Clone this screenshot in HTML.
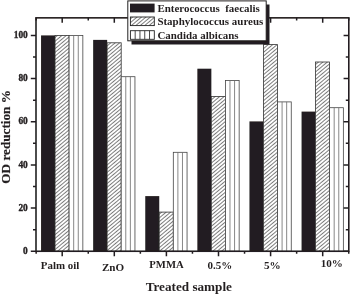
<!DOCTYPE html>
<html><head><meta charset="utf-8"><title>OD reduction chart</title>
<style>
html,body{margin:0;padding:0;background:#fff;}
body{width:350px;height:295px;overflow:hidden;}
svg{display:block;}
text{font-family:"Liberation Serif",serif;font-weight:bold;fill:#231f20;white-space:pre;}
</style></head><body>
<svg width="350" height="295" viewBox="0 0 350 295">
<defs>
<pattern id="hatch" patternUnits="userSpaceOnUse" width="2.85" height="2.85" patternTransform="rotate(-40)">
<rect width="2.85" height="2.85" fill="#fff"/>
<line x1="0" y1="1.4" x2="2.85" y2="1.4" stroke="#444" stroke-width="0.7"/>
</pattern>
<filter id="soft"><feGaussianBlur stdDeviation="0.35"/></filter>
</defs>
<rect width="350" height="295" fill="#fff"/>
<g filter="url(#soft)">

<rect x="41.05" y="35.40" width="14.00" height="215.85" fill="#231f20"/>
<rect x="55.05" y="35.40" width="14.05" height="215.85" fill="url(#hatch)" stroke="#333" stroke-width="0.8"/>
<rect x="69.10" y="35.40" width="13.75" height="215.85" fill="#fff" stroke="#444" stroke-width="0.8"/>
<line x1="73.68" y1="35.40" x2="73.68" y2="251.25" stroke="#6a6a6a" stroke-width="0.8"/>
<line x1="78.27" y1="35.40" x2="78.27" y2="251.25" stroke="#6a6a6a" stroke-width="0.8"/>
<rect x="93.15" y="39.90" width="14.00" height="211.35" fill="#231f20"/>
<rect x="107.15" y="42.80" width="14.05" height="208.45" fill="url(#hatch)" stroke="#333" stroke-width="0.8"/>
<rect x="121.20" y="76.70" width="13.75" height="174.55" fill="#fff" stroke="#444" stroke-width="0.8"/>
<line x1="125.78" y1="76.70" x2="125.78" y2="251.25" stroke="#6a6a6a" stroke-width="0.8"/>
<line x1="130.37" y1="76.70" x2="130.37" y2="251.25" stroke="#6a6a6a" stroke-width="0.8"/>
<rect x="145.25" y="196.10" width="14.00" height="55.15" fill="#231f20"/>
<rect x="159.25" y="212.10" width="14.05" height="39.15" fill="url(#hatch)" stroke="#333" stroke-width="0.8"/>
<rect x="173.30" y="152.30" width="13.75" height="98.95" fill="#fff" stroke="#444" stroke-width="0.8"/>
<line x1="177.88" y1="152.30" x2="177.88" y2="251.25" stroke="#6a6a6a" stroke-width="0.8"/>
<line x1="182.47" y1="152.30" x2="182.47" y2="251.25" stroke="#6a6a6a" stroke-width="0.8"/>
<rect x="197.35" y="68.70" width="14.00" height="182.55" fill="#231f20"/>
<rect x="211.35" y="96.40" width="14.05" height="154.85" fill="url(#hatch)" stroke="#333" stroke-width="0.8"/>
<rect x="225.40" y="80.50" width="13.75" height="170.75" fill="#fff" stroke="#444" stroke-width="0.8"/>
<line x1="229.98" y1="80.50" x2="229.98" y2="251.25" stroke="#6a6a6a" stroke-width="0.8"/>
<line x1="234.57" y1="80.50" x2="234.57" y2="251.25" stroke="#6a6a6a" stroke-width="0.8"/>
<rect x="249.45" y="121.40" width="14.00" height="129.85" fill="#231f20"/>
<rect x="263.45" y="44.60" width="14.05" height="206.65" fill="url(#hatch)" stroke="#333" stroke-width="0.8"/>
<rect x="277.50" y="101.90" width="13.75" height="149.35" fill="#fff" stroke="#444" stroke-width="0.8"/>
<line x1="282.08" y1="101.90" x2="282.08" y2="251.25" stroke="#6a6a6a" stroke-width="0.8"/>
<line x1="286.67" y1="101.90" x2="286.67" y2="251.25" stroke="#6a6a6a" stroke-width="0.8"/>
<rect x="301.55" y="111.60" width="14.00" height="139.65" fill="#231f20"/>
<rect x="315.55" y="62.00" width="14.05" height="189.25" fill="url(#hatch)" stroke="#333" stroke-width="0.8"/>
<rect x="329.60" y="107.70" width="13.75" height="143.55" fill="#fff" stroke="#444" stroke-width="0.8"/>
<line x1="334.18" y1="107.70" x2="334.18" y2="251.25" stroke="#6a6a6a" stroke-width="0.8"/>
<line x1="338.77" y1="107.70" x2="338.77" y2="251.25" stroke="#6a6a6a" stroke-width="0.8"/>
<rect x="36.0" y="17.85" width="312.80" height="233.40" fill="none" stroke="#231f20" stroke-width="1.6"/>
<path d="M36.15 251.25 v2.6 M36.15 17.85 v2.6 M62.20 251.25 v5 M62.20 17.85 v5 M88.25 251.25 v2.6 M88.25 17.85 v2.6 M114.30 251.25 v5 M114.30 17.85 v5 M140.35 251.25 v2.6 M140.35 17.85 v2.6 M166.40 251.25 v5 M166.40 17.85 v5 M192.45 251.25 v2.6 M192.45 17.85 v2.6 M218.50 251.25 v5 M218.50 17.85 v5 M244.55 251.25 v2.6 M244.55 17.85 v2.6 M270.60 251.25 v5 M270.60 17.85 v5 M296.65 251.25 v2.6 M296.65 17.85 v2.6 M322.70 251.25 v5 M322.70 17.85 v5 M348.75 251.25 v2.6 M348.75 17.85 v2.6 M36.0 251.25 h-5.2 M348.8 251.25 h-5.2 M36.0 229.66 h-3 M348.8 229.66 h-3 M36.0 208.08 h-5.2 M348.8 208.08 h-5.2 M36.0 186.50 h-3 M348.8 186.50 h-3 M36.0 164.91 h-5.2 M348.8 164.91 h-5.2 M36.0 143.32 h-3 M348.8 143.32 h-3 M36.0 121.74 h-5.2 M348.8 121.74 h-5.2 M36.0 100.16 h-3 M348.8 100.16 h-3 M36.0 78.57 h-5.2 M348.8 78.57 h-5.2 M36.0 56.98 h-3 M348.8 56.98 h-3 M36.0 35.40 h-5.2 M348.8 35.40 h-5.2" stroke="#231f20" stroke-width="1.5" fill="none"/>
<rect x="131.5" y="4.5" width="138" height="40" fill="#231f20"/>
<rect x="127.8" y="0.9" width="138.4" height="39.9" fill="#fff" stroke="#231f20" stroke-width="1"/>
<rect x="130" y="3.6" width="24.6" height="8.8" fill="#231f20"/>
<rect x="130.4" y="17.0" width="23.9" height="8.6" fill="url(#hatch)" stroke="#222" stroke-width="0.9"/>
<rect x="130.4" y="30.7" width="23.9" height="8.6" fill="#fff" stroke="#222" stroke-width="0.9"/>
<line x1="135.18" y1="30.7" x2="135.18" y2="39.3" stroke="#333" stroke-width="0.9"/>
<line x1="139.96" y1="30.7" x2="139.96" y2="39.3" stroke="#333" stroke-width="0.9"/>
<line x1="144.74" y1="30.7" x2="144.74" y2="39.3" stroke="#333" stroke-width="0.9"/>
<line x1="149.52" y1="30.7" x2="149.52" y2="39.3" stroke="#333" stroke-width="0.9"/>
</g>
<g>
<text x="27.8" y="253.85" font-size="9.4" text-anchor="end" stroke="#231f20" stroke-width="0.35">0</text>
<text x="27.8" y="210.68" font-size="9.4" text-anchor="end" stroke="#231f20" stroke-width="0.35">20</text>
<text x="27.8" y="167.51" font-size="9.4" text-anchor="end" stroke="#231f20" stroke-width="0.35">40</text>
<text x="27.8" y="124.34" font-size="9.4" text-anchor="end" stroke="#231f20" stroke-width="0.35">60</text>
<text x="27.8" y="81.17" font-size="9.4" text-anchor="end" stroke="#231f20" stroke-width="0.35">80</text>
<text x="27.8" y="38.00" font-size="9.4" text-anchor="end" stroke="#231f20" stroke-width="0.35">100</text>
<text x="60" y="268.8" font-size="10.9" text-anchor="middle">Palm oil</text>
<text x="113" y="270.8" font-size="11.1" text-anchor="middle">ZnO</text>
<text x="166.5" y="267.5" font-size="10.7" text-anchor="middle">PMMA</text>
<text x="219.9" y="268.9" font-size="11" text-anchor="middle">0.5%</text>
<text x="272.3" y="269.3" font-size="11.2" text-anchor="middle">5%</text>
<text x="331.8" y="266.5" font-size="11.1" text-anchor="middle">10%</text>
<text x="188.8" y="291.2" font-size="13.2" text-anchor="middle">Treated sample</text>
<text transform="translate(9.7 136.9) rotate(-90)" font-size="13.2" stroke="#231f20" stroke-width="0.2" text-anchor="middle">OD reduction %</text>
<text x="157.4" y="11.5" font-size="10.95">Enterococcus  faecalis</text>
<text x="157.4" y="24.9" font-size="10.95">Staphylococcus aureus</text>
<text x="157.4" y="38.6" font-size="10.95">Candida albicans</text>
</g></svg></body></html>
